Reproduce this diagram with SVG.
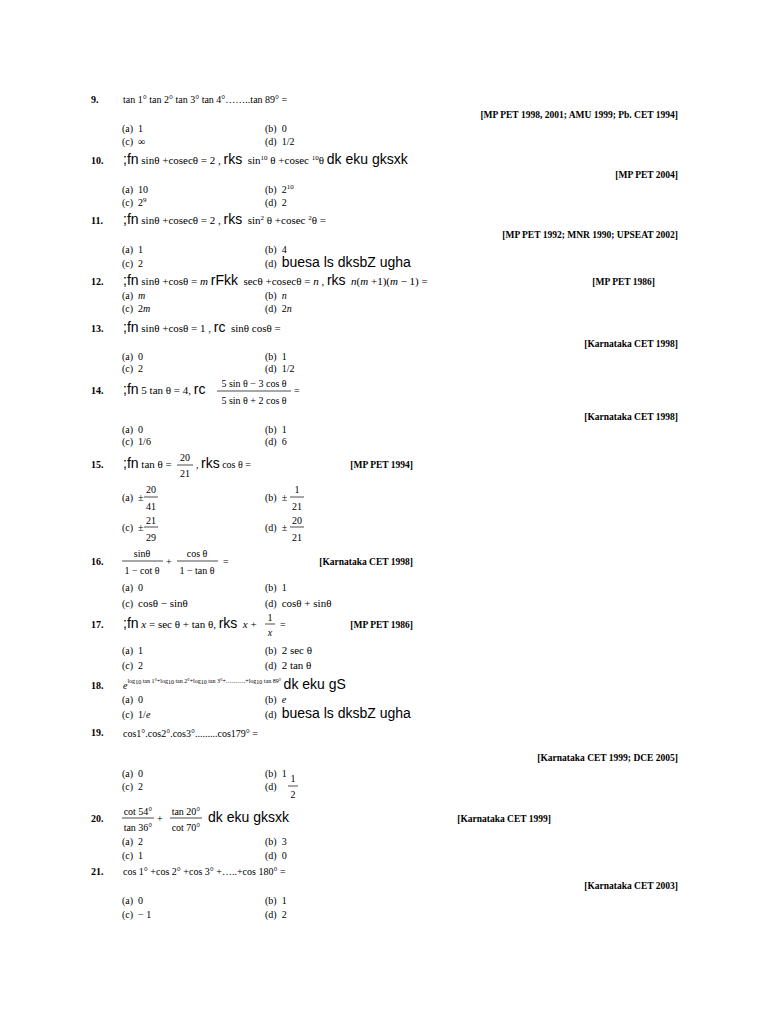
<svg xmlns="http://www.w3.org/2000/svg" width="768" height="1024" viewBox="0 0 768 1024">
<style>
text{font-family:"Liberation Serif",serif;font-size:10px;fill:#000;white-space:pre}
.n{font-weight:bold}
.c{font-weight:bold;font-size:9.5px;text-anchor:end}
.h{font-family:"Liberation Sans",sans-serif;font-size:14px}
.m{font-size:11px}
.fr{text-anchor:middle}
line{stroke:#000;stroke-width:0.7}
</style>
<rect width="768" height="1024" fill="#fff"/>
<g id="q9">
<text class="n" x="91" y="103">9.</text>
<text x="123" y="103">tan 1° tan 2° tan 3° tan 4°……..tan 89° =</text>
<text class="c" x="678" y="118">[MP PET 1998, 2001; AMU 1999; Pb. CET 1994]</text>
<text x="122" y="132">(a)  1</text><text x="265" y="132">(b)  0</text>
<text x="122" y="145">(c)  ∞</text><text x="265" y="145">(d)  1/2</text>
</g>
<g id="q10">
<text class="n" x="91" y="164">10.</text>
<text x="123" y="164"><tspan class="h">;fn</tspan><tspan class="m"> sinθ +cosecθ = 2 , </tspan><tspan class="h">rks</tspan><tspan class="m">  sin<tspan font-size="7" dy="-4">10</tspan><tspan dy="4"> θ +cosec </tspan><tspan font-size="7" dy="-4">10</tspan><tspan dy="4">θ </tspan></tspan><tspan class="h">dk eku gksxk</tspan></text>
<text class="c" x="678" y="178">[MP PET 2004]</text>
<text x="122" y="193">(a)  10</text><text x="265" y="193">(b)  2<tspan font-size="7" dy="-4">10</tspan></text>
<text x="122" y="206">(c)  2<tspan font-size="7" dy="-4">9</tspan></text><text x="265" y="206">(d)  2</text>
</g>
<g id="q11">
<text class="n" x="91" y="224">11.</text>
<text x="123" y="224"><tspan class="h">;fn</tspan><tspan class="m"> sinθ +cosecθ = 2 , </tspan><tspan class="h">rks</tspan><tspan class="m">  sin<tspan font-size="7" dy="-4">2</tspan><tspan dy="4"> θ +cosec </tspan><tspan font-size="7" dy="-4">2</tspan><tspan dy="4">θ =</tspan></tspan></text>
<text class="c" x="678" y="238">[MP PET 1992; MNR 1990; UPSEAT 2002]</text>
<text x="122" y="253">(a)  1</text><text x="265" y="253">(b)  4</text>
<text x="122" y="267">(c)  2</text><text x="265" y="267">(d)  <tspan class="h">buesa ls dksbZ ugha</tspan></text>
</g>
<g id="q12">
<text class="n" x="91" y="285">12.</text>
<text x="123" y="285"><tspan class="h">;fn</tspan><tspan class="m"> sinθ +cosθ = <tspan font-style="italic">m</tspan> </tspan><tspan class="h">rFkk</tspan><tspan class="m">  secθ +cosecθ = <tspan font-style="italic">n</tspan> , </tspan><tspan class="h">rks</tspan><tspan class="m">  <tspan font-style="italic">n</tspan>(<tspan font-style="italic">m</tspan> +1)(<tspan font-style="italic">m</tspan> − 1) =</tspan></text>
<text class="c" x="655" y="285">[MP PET 1986]</text>
<text x="122" y="299">(a)  <tspan font-style="italic">m</tspan></text><text x="265" y="299">(b)  <tspan font-style="italic">n</tspan></text>
<text x="122" y="312">(c)  2<tspan font-style="italic">m</tspan></text><text x="265" y="312">(d)  2<tspan font-style="italic">n</tspan></text>
</g>
<g id="q13">
<text class="n" x="91" y="332">13.</text>
<text x="123" y="332"><tspan class="h">;fn</tspan><tspan class="m"> sinθ +cosθ = 1 , </tspan><tspan class="h">rc</tspan><tspan class="m">  sinθ cosθ =</tspan></text>
<text class="c" x="678" y="347">[Karnataka CET 1998]</text>
<text x="122" y="360">(a)  0</text><text x="265" y="360">(b)  1</text>
<text x="122" y="372">(c)  2</text><text x="265" y="372">(d)  1/2</text>
</g>
<g id="q14">
<text class="n" x="91" y="394">14.</text>
<text x="123" y="394"><tspan class="h">;fn</tspan><tspan class="m"> 5 tan θ = 4, </tspan><tspan class="h">rc</tspan></text>
<text class="fr" x="254" y="387">5 sin θ − 3 cos θ</text>
<line x1="217" y1="391" x2="291" y2="391"/>
<text class="fr" x="254" y="404">5 sin θ + 2 cos θ</text>
<text x="294" y="394">=</text>
<text class="c" x="678" y="420">[Karnataka CET 1998]</text>
<text x="122" y="433">(a)  0</text><text x="265" y="433">(b)  1</text>
<text x="122" y="445">(c)  1/6</text><text x="265" y="445">(d)  6</text>
</g>
<g id="q15">
<text class="n" x="91" y="468">15.</text>
<text x="123" y="468"><tspan class="h">;fn</tspan><tspan class="m"> tan θ = </tspan></text>
<text class="fr" x="185" y="461">20</text><line x1="177" y1="465" x2="193" y2="465"/><text class="fr" x="185" y="477">21</text>
<text x="196" y="468">, <tspan class="h">rks</tspan> cos θ =</text>
<text class="c" x="413" y="468">[MP PET 1994]</text>
<text x="122" y="501">(a)  ±</text><text class="fr" x="151" y="493">20</text><line x1="144" y1="497" x2="158" y2="497"/><text class="fr" x="151" y="510">41</text>
<text x="265" y="501">(b)  ±</text><text class="fr" x="297" y="493">1</text><line x1="290" y1="497" x2="304" y2="497"/><text class="fr" x="297" y="510">21</text>
<text x="122" y="531">(c)  ±</text><text class="fr" x="151" y="524">21</text><line x1="144" y1="527" x2="158" y2="527"/><text class="fr" x="151" y="541">29</text>
<text x="265" y="531">(d)  ±</text><text class="fr" x="297" y="524">20</text><line x1="290" y1="527" x2="304" y2="527"/><text class="fr" x="297" y="541">21</text>
</g>
<g id="q16">
<text class="n" x="91" y="565">16.</text>
<text class="fr" x="142" y="557">sinθ</text><line x1="122" y1="561" x2="163" y2="561"/><text class="fr" x="142" y="574">1 − cot θ</text>
<text x="166" y="565">+</text>
<text class="fr" x="197" y="557">cos θ</text><line x1="177" y1="561" x2="218" y2="561"/><text class="fr" x="197" y="574">1 − tan θ</text>
<text x="223" y="565">=</text>
<text class="c" x="413" y="565">[Karnataka CET 1998]</text>
<text x="122" y="591">(a)  0</text><text x="265" y="591">(b)  1</text>
<text x="122" y="607">(c)  <tspan class="m">cosθ − sinθ</tspan></text><text x="265" y="607">(d)  <tspan class="m">cosθ + sinθ</tspan></text>
</g>
<g id="q17">
<text class="n" x="91" y="628">17.</text>
<text x="123" y="628"><tspan class="h">;fn</tspan><tspan class="m"> <tspan font-style="italic">x</tspan> = sec θ + tan θ, </tspan><tspan class="h">rks</tspan><tspan class="m">  <tspan font-style="italic">x</tspan> + </tspan></text>
<text class="fr" x="270" y="621">1</text><line x1="265" y1="624" x2="275" y2="624"/><text class="fr" x="270" y="636" font-style="italic">x</text>
<text x="280" y="628">=</text>
<text class="c" x="413" y="628">[MP PET 1986]</text>
<text x="122" y="654">(a)  1</text><text x="265" y="654">(b)  <tspan class="m">2 sec θ</tspan></text>
<text x="122" y="669">(c)  2</text><text x="265" y="669">(d)  <tspan class="m">2 tan θ</tspan></text>
</g>
<g id="q18">
<text class="n" x="91" y="689">18.</text>
<text x="123" y="689"><tspan font-style="italic">e</tspan><tspan font-size="6" dy="-6">log<tspan dy="1">10</tspan><tspan dy="-1"> tan 1°+log</tspan><tspan dy="1">10</tspan><tspan dy="-1"> tan 2°+log</tspan><tspan dy="1">10</tspan><tspan dy="-1"> tan 3°+……….+log</tspan><tspan dy="1">10</tspan><tspan dy="-1"> tan 89°</tspan></tspan><tspan dy="6"> </tspan><tspan class="h">dk eku gS</tspan></text>
<text x="122" y="703">(a)  0</text><text x="265" y="703">(b)  <tspan font-style="italic">e</tspan></text>
<text x="122" y="718">(c)  1/<tspan font-style="italic">e</tspan></text><text x="265" y="718">(d)  <tspan class="h">buesa ls dksbZ ugha</tspan></text>
</g>
<g id="q19">
<text class="n" x="91" y="736">19.</text>
<text x="123" y="737" font-size="12">cos1°.cos2°.cos3°.........cos179° =</text>
<text class="c" x="678" y="761">[Karnataka CET 1999; DCE 2005]</text>
<text x="122" y="777">(a)  0</text><text x="265" y="777">(b)  1</text>
<text x="122" y="790">(c)  2</text><text x="265" y="790">(d)</text>
<text class="fr" x="293" y="782">1</text><line x1="288" y1="786" x2="298" y2="786"/><text class="fr" x="293" y="798">2</text>
</g>
<g id="q20">
<text class="n" x="91" y="822">20.</text>
<text class="fr" x="138" y="815">cot 54°</text><line x1="122" y1="818" x2="154" y2="818"/><text class="fr" x="138" y="831">tan 36°</text>
<text x="157" y="822">+</text>
<text class="fr" x="186" y="815">tan 20°</text><line x1="170" y1="818" x2="202" y2="818"/><text class="fr" x="186" y="831">cot 70°</text>
<text x="208" y="822" class="h">dk eku gksxk</text>
<text class="c" x="551" y="822">[Karnataka CET 1999]</text>
<text x="122" y="845">(a)  2</text><text x="265" y="845">(b)  3</text>
<text x="122" y="859">(c)  1</text><text x="265" y="859">(d)  0</text>
</g>
<g id="q21">
<text class="n" x="91" y="875">21.</text>
<text x="123" y="875">cos 1° +cos 2° +cos 3° +…..+cos 180° =</text>
<text class="c" x="678" y="889">[Karnataka CET 2003]</text>
<text x="122" y="904">(a)  0</text><text x="265" y="904">(b)  1</text>
<text x="122" y="918">(c)  − 1</text><text x="265" y="918">(d)  2</text>
</g>
</svg>
